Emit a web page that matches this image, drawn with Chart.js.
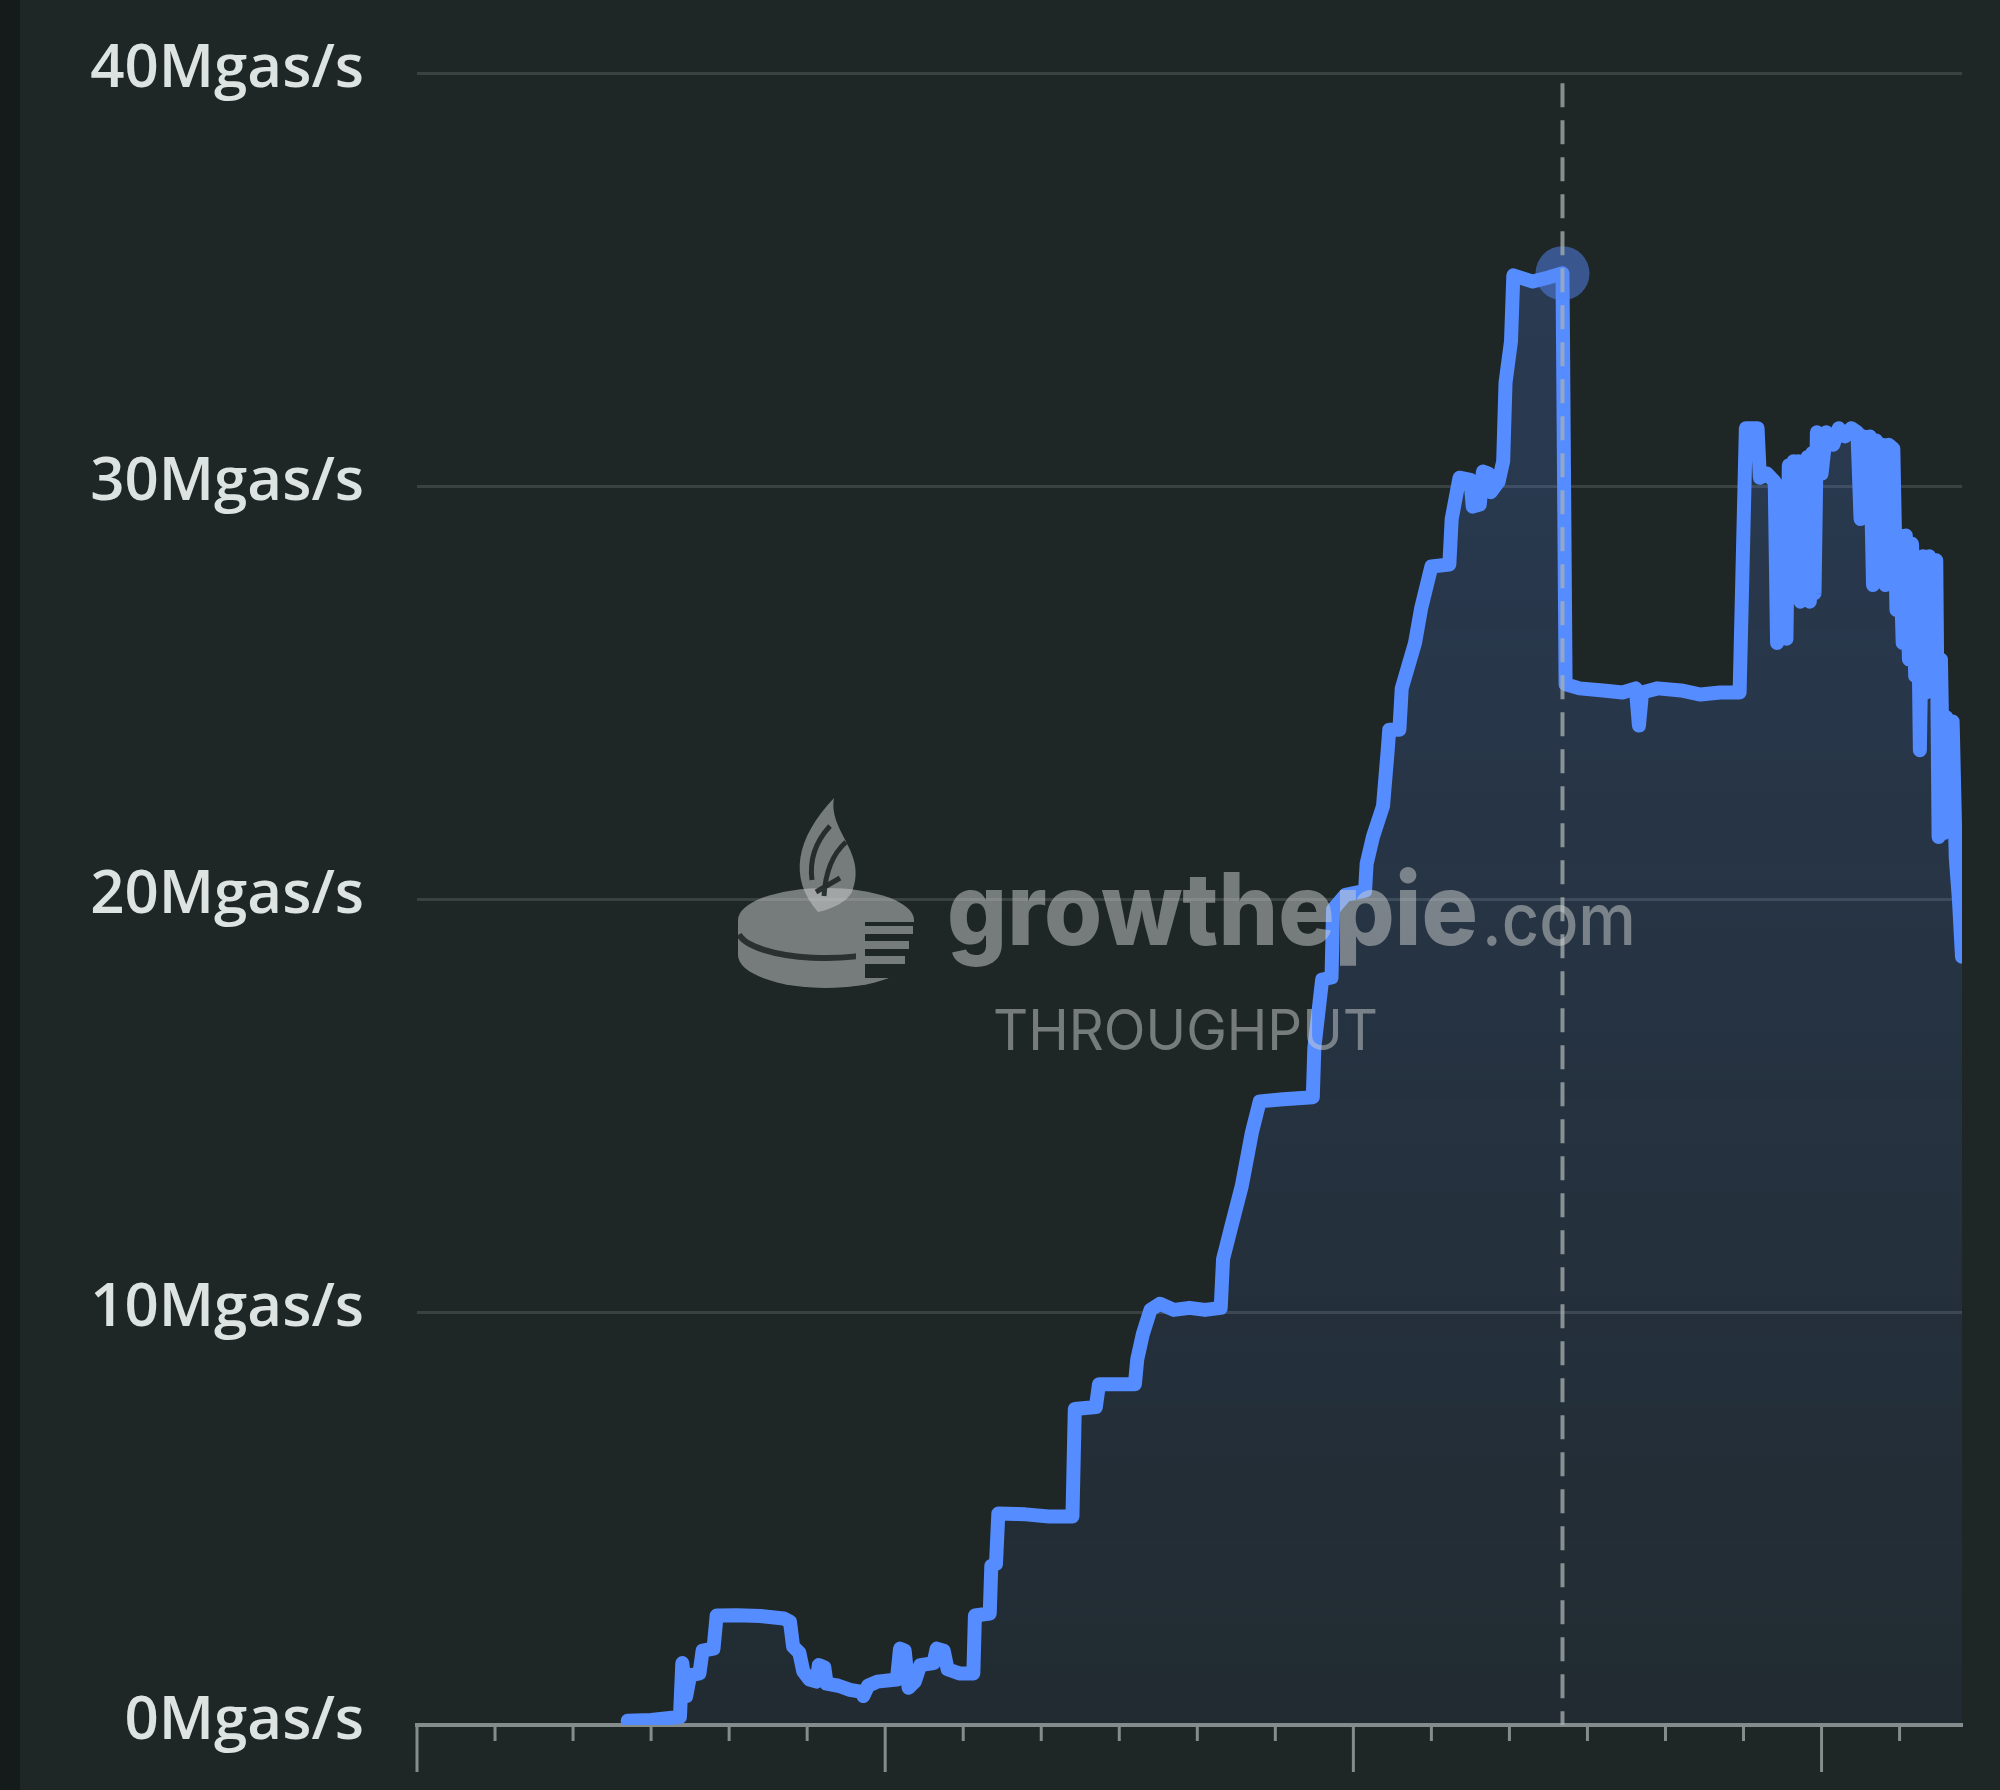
<!DOCTYPE html>
<html>
<head>
<meta charset="utf-8">
<script src="https://cdn.jsdelivr.net/npm/chart.js@4.4.1/dist/chart.umd.min.js"></script>
<style>
html, body { margin: 0; padding: 0; background: #1f2626; }
#wrap { position: relative; width: 2000px; height: 1790px; background: #1f2626; overflow: hidden; }
#strip { position: absolute; left: 0; top: 0; width: 20px; height: 1790px; background: #151a1a; }
canvas { position: absolute; left: 0; top: 0; }
</style>
</head>
<body>
<div id="wrap">
  <div id="strip"></div>
  <canvas id="chart" width="2000" height="1790"></canvas>
</div>
<script>
// x position in months from the left end of the axis, throughput in Mgas/s
const monthPos = [
    2.70, 3.00, 3.30, 3.37, 3.40, 3.45, 3.50, 3.62, 3.66, 3.80,
    3.84, 4.10, 4.40, 4.70, 4.78, 4.82, 4.90, 4.95, 5.03, 5.12,
    5.15, 5.22, 5.25, 5.40, 5.55, 5.70, 5.72, 5.78, 5.90, 6.15,
    6.19, 6.25, 6.30, 6.38, 6.45, 6.62, 6.66, 6.75, 6.80, 6.95,
    7.13, 7.15, 7.34, 7.36, 7.42, 7.45, 7.80, 8.10, 8.40, 8.43,
    8.70, 8.74, 9.20, 9.23, 9.30, 9.40, 9.52, 9.70, 9.90, 10.10,
    10.30, 10.33, 10.44, 10.57, 10.70, 10.80, 11.10, 11.48, 11.50, 11.60,
    11.72, 11.74, 11.90, 12.15, 12.17, 12.25, 12.38, 12.44, 12.46, 12.59,
    12.62, 12.79, 12.87, 13.00, 13.23, 13.26, 13.36, 13.50, 13.53, 13.62,
    13.66, 13.73, 13.76, 13.86, 13.92, 13.95, 14.02, 14.05, 14.30, 14.50,
    14.68, 14.72, 14.90, 15.20, 15.45, 15.62, 15.66, 15.70, 15.90, 16.20,
    16.45, 16.70, 16.95, 17.03, 17.18, 17.21, 17.30, 17.40, 17.43, 17.46,
    17.49, 17.52, 17.55, 17.58, 17.61, 17.64, 17.67, 17.70, 17.73, 17.76,
    17.79, 17.82, 17.85, 17.88, 17.91, 17.94, 18.00, 18.06, 18.15, 18.22,
    18.30, 18.38, 18.46, 18.50, 18.54, 18.58, 18.62, 18.66, 18.70, 18.74,
    18.78, 18.82, 18.86, 18.92, 18.96, 19.00, 19.04, 19.08, 19.12, 19.16,
    19.20, 19.23, 19.26, 19.30, 19.34, 19.38, 19.42, 19.47, 19.50, 19.53,
    19.57, 19.60, 19.64, 19.68, 19.72, 19.76, 19.80
];
const gasThroughput = [
    0.10, 0.12, 0.18, 0.20, 1.50, 0.70, 1.20, 1.25, 1.80, 1.85,
    2.65, 2.66, 2.64, 2.58, 2.50, 1.90, 1.75, 1.30, 1.10, 1.05,
    1.45, 1.40, 1.00, 0.95, 0.85, 0.80, 0.70, 0.95, 1.05, 1.10,
    1.85, 1.80, 0.90, 1.05, 1.45, 1.50, 1.85, 1.80, 1.35, 1.25,
    1.25, 2.65, 2.70, 3.85, 3.90, 5.12, 5.10, 5.05, 5.05, 7.65,
    7.70, 8.25, 8.25, 8.85, 9.45, 10.05, 10.20, 10.05, 10.10, 10.05,
    10.10, 11.28, 12.10, 13.05, 14.35, 15.10, 15.15, 15.20, 16.40, 18.05,
    18.10, 19.75, 20.10, 20.20, 20.85, 21.50, 22.25, 23.60, 24.10, 24.10,
    25.10, 26.20, 27.05, 28.05, 28.10, 29.20, 30.20, 30.15, 29.50, 29.55,
    30.35, 30.30, 29.85, 30.10, 30.60, 32.50, 33.50, 35.10, 34.95, 35.05,
    35.15, 25.20, 25.10, 25.05, 25.00, 25.10, 24.20, 25.00, 25.10, 25.05,
    24.95, 25.00, 25.00, 31.40, 31.40, 30.20, 30.30, 30.10, 26.20, 30.00,
    26.40, 29.90, 26.30, 30.50, 27.60, 30.60, 27.70, 30.60, 27.20, 30.60,
    27.30, 30.70, 27.20, 30.80, 27.40, 31.30, 30.30, 31.30, 31.00, 31.40,
    31.20, 31.40, 31.30, 29.20, 31.20, 29.30, 31.20, 27.60, 31.10, 27.80,
    31.00, 27.60, 31.00, 30.90, 27.00, 28.80, 26.20, 28.80, 25.80, 28.60,
    25.40, 28.20, 23.60, 28.30, 25.00, 28.30, 25.50, 28.20, 21.50, 25.80,
    21.60, 24.40, 21.80, 24.30, 21.00, 20.00, 18.60
];
const yTicks = [0, 10, 20, 30, 40];
const xMax = 19.8;
const majorEvery = 6;
const highlightIndex = 100;
const crosshairTop = 39.75;

const points = monthPos.map((m, i) => ({ x: m, y: gasThroughput[i] }));

// Axis ticks, crosshair and watermark
const decorations = {
    id: "decorations",
    afterDatasetsDraw(chart) {
        const ctx = chart.ctx;
        const xs = chart.scales.x;
        const ys = chart.scales.y;
        const base = ys.getPixelForValue(0);

        ctx.save();

        // dashed crosshair at hovered point
        const hx = xs.getPixelForValue(monthPos[highlightIndex]);
        ctx.strokeStyle = "rgba(170,178,178,0.75)";
        ctx.lineWidth = 4;
        ctx.setLineDash([24, 13]);
        ctx.beginPath();
        ctx.moveTo(hx, ys.getPixelForValue(crosshairTop));
        ctx.lineTo(hx, base);
        ctx.stroke();
        ctx.setLineDash([]);

        // x ticks below the axis
        ctx.strokeStyle = "#858c8b";
        ctx.lineWidth = 3;
        for (let m = 0; m <= Math.floor(xMax); m++) {
            const px = xs.getPixelForValue(m);
            const len = m % majorEvery === 0 ? 47 : 16;
            ctx.beginPath();
            ctx.moveTo(px, base);
            ctx.lineTo(px, base + len);
            ctx.stroke();
        }

        // watermark
        const gray = "rgba(205,208,208,0.5)";
        const bg = "#1f2626";
        ctx.fillStyle = gray;

        // pie body
        ctx.beginPath();
        ctx.ellipse(826, 920, 88, 32, 0, Math.PI, 2 * Math.PI);
        ctx.lineTo(914, 955);
        ctx.ellipse(826, 955, 88, 33, 0, 0, Math.PI);
        ctx.closePath();
        ctx.fill();

        // band around pie
        ctx.strokeStyle = "rgba(31,38,38,0.85)";
        ctx.lineWidth = 6;
        ctx.beginPath();
        ctx.ellipse(826, 930, 88, 28, 0, 0.05 * Math.PI, 0.95 * Math.PI);
        ctx.stroke();

        // slice cut-out
        ctx.fillStyle = bg;
        ctx.fillRect(856, 922, 62, 56);
        ctx.fillStyle = gray;
        ctx.fillRect(856, 922, 9, 56);
        ctx.fillRect(865, 926, 48, 8);
        ctx.fillRect(865, 941, 44, 8);
        ctx.fillRect(865, 956, 40, 8);

        // flame
        ctx.beginPath();
        ctx.moveTo(818, 912);
        ctx.bezierCurveTo(788, 878, 796, 838, 834, 798);
        ctx.bezierCurveTo(828, 832, 868, 852, 852, 892);
        ctx.quadraticCurveTo(844, 906, 818, 912);
        ctx.fill();
        ctx.strokeStyle = "rgba(31,38,38,0.9)";
        ctx.lineWidth = 5;
        ctx.beginPath();
        ctx.moveTo(812, 880);
        ctx.quadraticCurveTo(808, 850, 830, 826);
        ctx.moveTo(824, 896);
        ctx.quadraticCurveTo(826, 860, 846, 842);
        ctx.moveTo(816, 892);
        ctx.lineTo(840, 878);
        ctx.stroke();

        ctx.fillStyle = gray;
        ctx.textBaseline = "alphabetic";
        ctx.textAlign = "left";
        drawFitted(ctx, "growthepie", "800 100px Inter", 947, 945, 531);
        drawFitted(ctx, ".com", "500 72px Inter", 1482, 945, 154);
        drawFitted(ctx, "THROUGHPUT", "400 56px Inter", 993, 1050, 385);

        ctx.restore();
    }
};

function drawFitted(ctx, text, font, x, y, width) {
    ctx.font = font;
    const w = ctx.measureText(text).width;
    ctx.save();
    ctx.translate(x, y);
    ctx.scale(width / w, 1);
    ctx.fillText(text, 0, 0);
    ctx.restore();
}

const ctx = document.getElementById("chart").getContext("2d");

new Chart(ctx, {
    type: "line",
    data: {
        datasets: [
            {
                data: points,
                borderColor: "#558cff",
                borderWidth: 14,
                borderJoinStyle: "round",
                borderCapStyle: "round",
                tension: 0,
                fill: "origin",
                backgroundColor: (c) => {
                    const area = c.chart.chartArea;
                    if (!area) return "rgba(80,130,230,0.15)";
                    const g = c.chart.ctx.createLinearGradient(0, area.top, 0, area.bottom);
                    g.addColorStop(0, "rgba(80,130,235,0.25)");
                    g.addColorStop(1, "rgba(80,130,235,0.06)");
                    return g;
                },
                pointRadius: (c) => c.dataIndex === highlightIndex ? 27 : 0,
                pointBackgroundColor: "rgba(83,135,245,0.5)",
                pointBorderWidth: 0
            }
        ]
    },
    options: {
        responsive: false,
        animation: false,
        layout: {
            padding: { top: 73, right: 38, bottom: 65, left: 0 }
        },
        plugins: {
            legend: { display: false },
            tooltip: { enabled: false }
        },
        scales: {
            x: {
                type: "linear",
                min: 0,
                max: xMax,
                ticks: { display: false },
                grid: { drawOnChartArea: false, drawTicks: false },
                border: { display: true, color: "#858c8b", width: 4 }
            },
            y: {
                min: 0,
                max: 40,
                afterFit: (s) => { s.width = 417; },
                afterBuildTicks: (s) => { s.ticks = yTicks.map(v => ({ value: v })); },
                ticks: {
                    color: "#dde3e1",
                    padding: 3,
                    labelOffset: -3,
                    font: { family: "'Open Sans'", size: 60, weight: "600" },
                    callback: (v) => v + "Mgas/s"
                },
                grid: {
                    color: (c) => c.tick && c.tick.value === 0 ? "rgba(0,0,0,0)" : "#3a4141",
                    lineWidth: 3,
                    drawTicks: true,
                    tickLength: 50,
                    tickColor: "rgba(0,0,0,0)"
                },
                border: { display: false }
            }
        }
    },
    plugins: [decorations]
});
</script>
</body>
</html>
